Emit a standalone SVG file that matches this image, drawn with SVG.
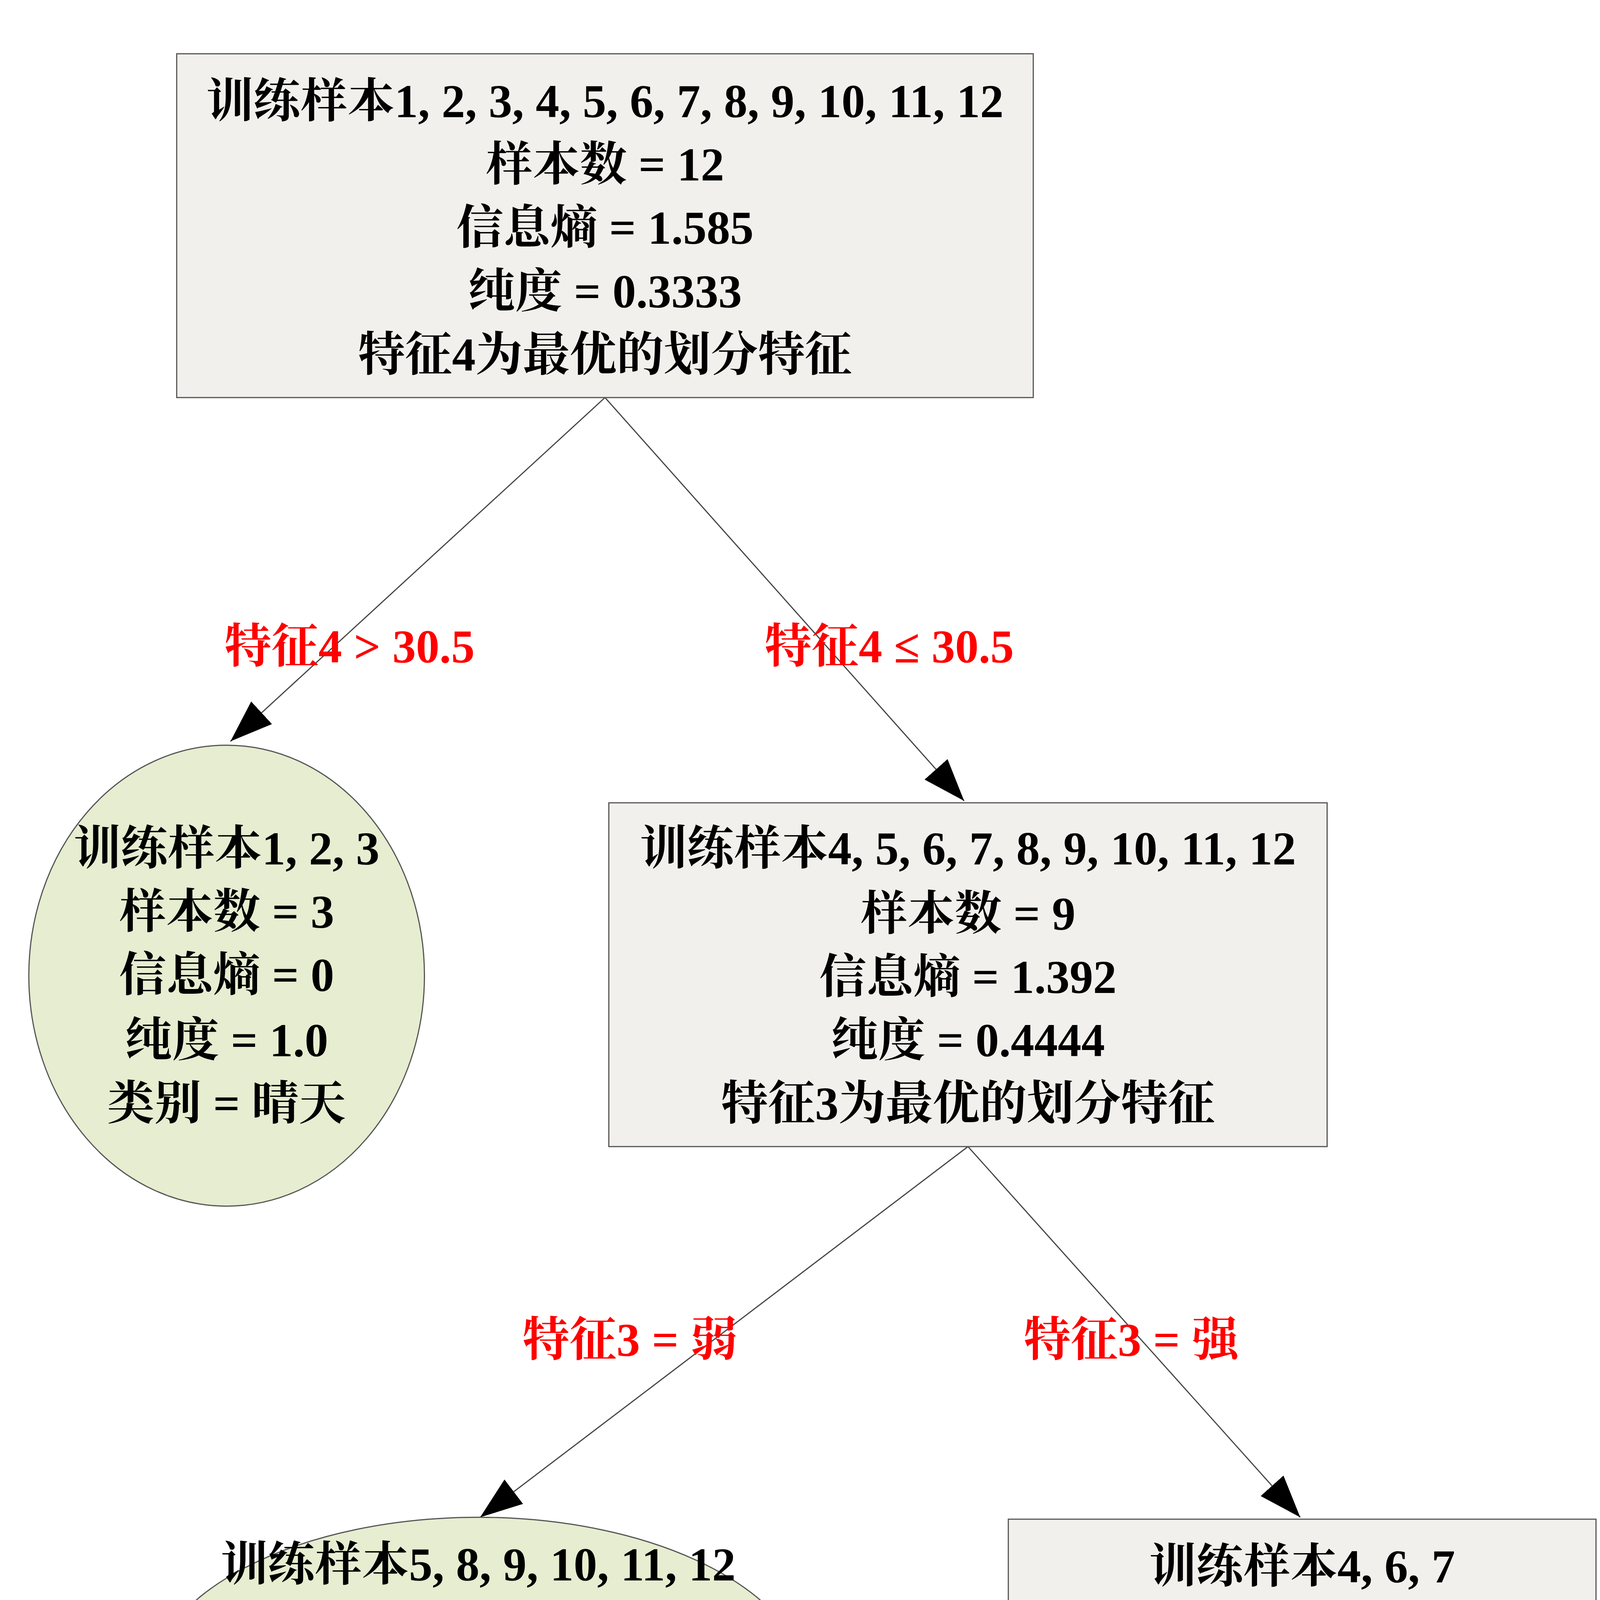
<svg xmlns="http://www.w3.org/2000/svg" width="5310" height="7769" viewBox="0 0 5310 7769">
<style>
text{font-family:"Liberation Serif","Noto Serif CJK SC","Noto Sans CJK SC",serif;font-weight:bold;font-size:24.5px;text-anchor:middle;fill:#000}
.lbl{fill:#ff0000}
.box{fill:#f1f0ec;stroke:#555;stroke-width:0.6}
.leaf{fill:#e6edd0;stroke:#555;stroke-width:0.6}
.edge{stroke:#444;stroke-width:0.6;fill:none;marker-end:url(#arr)}
</style>
<defs>
<marker id="arr" markerUnits="userSpaceOnUse" markerWidth="24" markerHeight="16" refX="22" refY="8" orient="auto">
<path d="M0,0 L22,8 L0,16 Z" fill="#000"/>
</marker>
</defs>
<rect width="5310" height="7769" fill="#fff"/>
<g transform="scale(4.9167)">
<g id="edges">
<line class="edge" x1="315" y1="207" x2="120" y2="386"/>
<line class="edge" x1="315" y1="207" x2="502" y2="417"/>
<line class="edge" x1="504" y1="597" x2="250" y2="790"/>
<line class="edge" x1="504" y1="597" x2="677" y2="790"/>
<line class="edge" x1="679" y1="969" x2="727" y2="1303"/>
<line class="edge" x1="679" y1="969" x2="949" y2="1303"/>
<text class="lbl" x="182" y="345">特征4 &gt; 30.5</text>
<text class="lbl" x="463" y="345">特征4 ≤ 30.5</text>
<text class="lbl" x="328" y="706">特征3 = 弱</text>
<text class="lbl" x="589" y="706">特征3 = 强</text>
<text class="lbl" x="707" y="1145">特征4 &gt; 26.5</text>
<text class="lbl" x="877" y="1145">特征4 ≤ 26.5</text>
</g>
<g id="n0">
<rect class="box" x="92" y="28" width="446" height="179"/>
<text x="315" y="61">训练样本1, 2, 3, 4, 5, 6, 7, 8, 9, 10, 11, 12</text>
<text x="315" y="94">样本数 = 12</text>
<text x="315" y="127">信息熵 = 1.585</text>
<text x="315" y="160">纯度 = 0.3333</text>
<text x="315" y="193">特征4为最优的划分特征</text>
</g>
<g id="n1">
<ellipse class="leaf" cx="118" cy="508" rx="103" ry="120"/>
<text x="118" y="450">训练样本1, 2, 3</text>
<text x="118" y="483">样本数 = 3</text>
<text x="118" y="516">信息熵 = 0</text>
<text x="118" y="550">纯度 = 1.0</text>
<text x="118" y="583">类别 = 晴天</text>
</g>
<g id="n2">
<rect class="box" x="317" y="418" width="374" height="179"/>
<text x="504" y="450">训练样本4, 5, 6, 7, 8, 9, 10, 11, 12</text>
<text x="504" y="484">样本数 = 9</text>
<text x="504" y="517">信息熵 = 1.392</text>
<text x="504" y="550">纯度 = 0.4444</text>
<text x="504" y="583">特征3为最优的划分特征</text>
</g>
<g id="n3">
<ellipse class="leaf" cx="249" cy="880" rx="172" ry="90"/>
<text x="249" y="823">训练样本5, 8, 9, 10, 11, 12</text>
<text x="249" y="856">样本数 = 6</text>
<text x="249" y="889">信息熵 = 0.9183</text>
<text x="249" y="923">纯度 = 0.6667</text>
<text x="249" y="956">类别 = 雨天</text>
</g>
<g id="n4">
<rect class="box" x="525" y="791" width="306" height="178"/>
<text x="678" y="824">训练样本4, 6, 7</text>
<text x="678" y="857">样本数 = 3</text>
<text x="678" y="890">信息熵 = 0.9183</text>
<text x="678" y="923">纯度 = 0.6667</text>
<text x="678" y="956">特征4为最优的划分特征</text>
</g>
<g id="n5">
<ellipse class="leaf" cx="727" cy="1425" rx="103" ry="121"/>
<text x="727" y="1367">训练样本6, 7</text>
<text x="727" y="1400">样本数 = 2</text>
<text x="727" y="1434">信息熵 = 0</text>
<text x="727" y="1467">纯度 = 1.0</text>
<text x="727" y="1500">类别 = 阴天</text>
</g>
<g id="n6">
<ellipse class="leaf" cx="950" cy="1425" rx="103" ry="121"/>
<text x="950" y="1367">训练样本4</text>
<text x="950" y="1400">样本数 = 1</text>
<text x="950" y="1434">信息熵 = 0</text>
<text x="950" y="1467">纯度 = 1.0</text>
<text x="950" y="1500">类别 = 晴天</text>
</g>
</g>
</svg>
